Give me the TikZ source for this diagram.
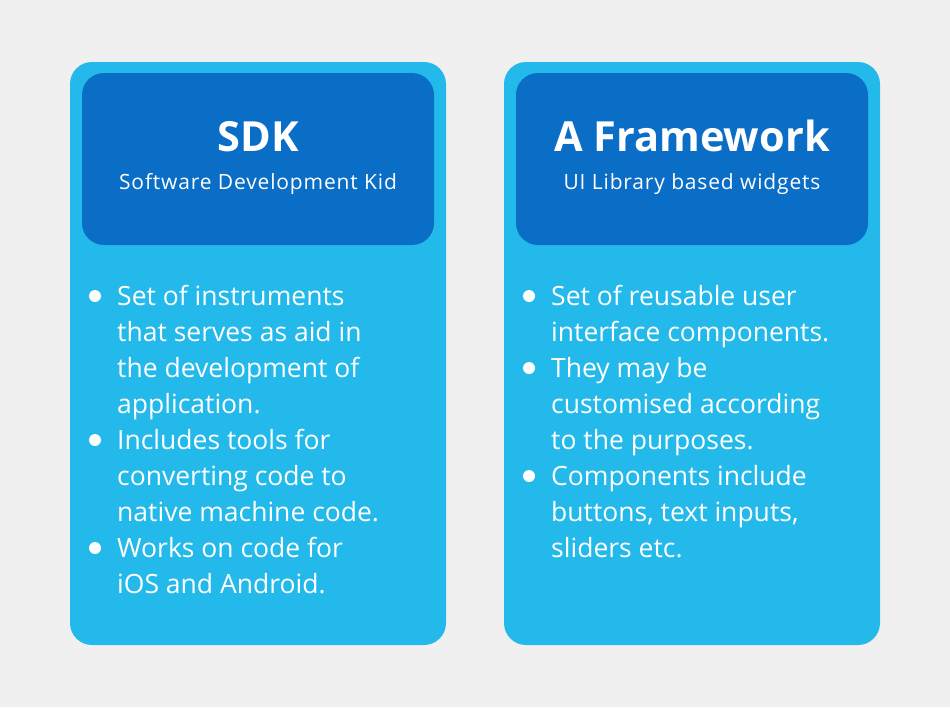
\documentclass[tikz,border=0pt]{standalone}
\usepackage{fontspec}
\setmainfont{Open Sans}
\definecolor{pagebg}{HTML}{F0F0F0}
\definecolor{cardblue}{HTML}{23B9EA}
\definecolor{headblue}{HTML}{0A6DC6}
\begin{document}
\begin{tikzpicture}[
        x=1pt, y=-1pt,
        card/.style={fill=cardblue, rounded corners=22pt},
        head/.style={fill=headblue, rounded corners=22pt},
        title/.style={text=white, font=\fontsize{41.5}{44}\selectfont\bfseries, anchor=base},
        subtitle/.style={text=white, font=\fontsize{21}{24}\selectfont\addfontfeature{LetterSpace=4}, anchor=base},
        line/.style={text=white, font=\fontsize{26.5}{30}\selectfont, anchor=base west, inner sep=0pt},
        dot/.style={circle, fill=white, minimum size=12pt, inner sep=0pt}
    ]
        % background
        \fill[pagebg] (0,0) rectangle (950,707);

        % SDK card
        \fill[card] (70,62) rectangle (446,645);
        \fill[head] (82,73) rectangle (434,245);
        \node[title] (sdk_title) at (258,151) {SDK};
        \node[subtitle] (sdk_sub) at (258,189) {Software Development Kid};
        \foreach \t [count=\i] in {Set of instruments, that serves as aid in,
            the development of, application., Includes tools for,
            converting code to, native machine code., Works on code for,
            iOS and Android.}
            \node[line] (sdk_l\i) at (117,305+36*\i-36) {\t};
        \foreach \i in {1,5,8}
            \node[dot] (sdk_dot\i) at (95,296+36*\i-36) {};

        % Framework card
        \fill[card] (504,62) rectangle (880,645);
        \fill[head] (516,73) rectangle (868,245);
        \node[title] (fw_title) at (692,151) {A Framework};
        \node[subtitle] (fw_sub) at (692,189) {UI Library based widgets};
        \foreach \t [count=\i] in {Set of reusable user,
            interface components., They may be, customised according,
            to the purposes., Components include, {buttons, text inputs,},
            sliders etc.}
            \node[line] (fw_l\i) at (551,305+36*\i-36) {\t};
        \foreach \i in {1,3,6}
            \node[dot] (fw_dot\i) at (529,296+36*\i-36) {};
    \end{tikzpicture}
\end{document}
